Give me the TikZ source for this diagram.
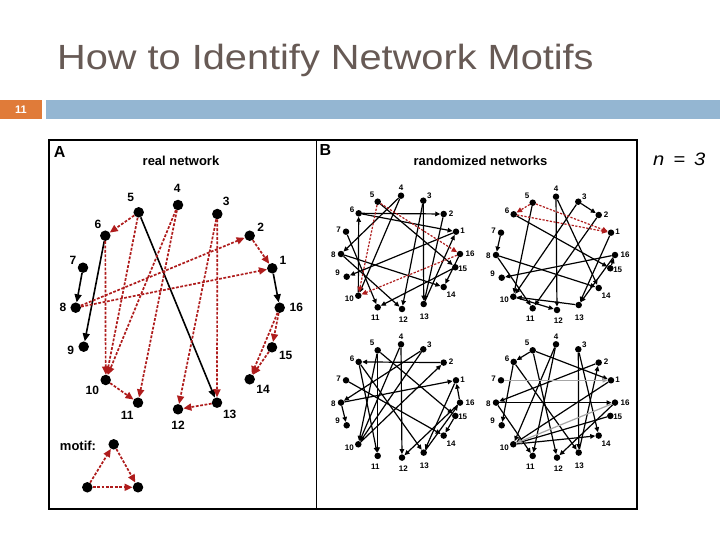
\documentclass[tikz,border=0pt]{standalone}
\usepackage{fontspec}
\usepackage{graphicx}
\setmainfont{Liberation Sans}
\usetikzlibrary{arrows.meta}
\definecolor{titlec}{RGB}{103,90,85}
\definecolor{orangec}{RGB}{224,123,57}
\definecolor{bluec}{RGB}{148,182,210}
\definecolor{redc}{RGB}{175,28,28}
\newcommand\bnet[3]{%
  \foreach \i/\x/\y/\lx/\ly in {1/456/231.7/6.7/-1, 2/443.7/214/7.3/-0.7, 3/423.3/200.7/6/-4.7,
    4/401/195.7/0/-8, 5/377.7/201.7/-5.7/-7.4, 6/358.7/213.3/-6.7/-3.3, 7/346/231.7/-7.3/-1.7,
    8/341/254/-7.7/1, 9/346.7/276.7/-9/-4.4, 10/358.3/295.7/-9/3.3, 11/377.7/307.3/-2.4/10.4,
    12/402/309/1.3/11, 13/423.7/304/0.6/12.7, 14/443.7/287/7.3/8, 15/455.3/267.3/7.4/1, 16/460/254/10/0}{
    \node[dotB] (#1-\i) at ({\x+#2},{\y+#3}) {};
    \node[labB] (#1-l\i) at ({\x+#2+\lx},{\y+#3+\ly}) {\i};
  }}
\begin{document}
\begin{tikzpicture}[x=1pt,y=-1pt,
  dotA/.style={circle,fill=black,inner sep=0pt,minimum size=10.5pt},
  dotB/.style={circle,fill=black,inner sep=0pt,minimum size=6.5pt},
  labA/.style={font=\fontsize{12}{12}\selectfont\bfseries,inner sep=0pt},
  labB/.style={font=\fontsize{8}{8}\selectfont\bfseries,inner sep=0pt},
  head/.style={font=\fontsize{13}{13}\selectfont\bfseries,inner sep=0pt},
  blkA/.style={draw=black,line width=1.6pt,-{Triangle[length=8pt,width=7pt]}},
  redA/.style={draw=redc,line width=1.7pt,dash pattern=on 2.8pt off 1.6pt,-{Triangle[length=8pt,width=7pt]}},
  blkB/.style={draw=black,line width=1.2pt,-{Triangle[length=5pt,width=4.5pt]}},
  redB/.style={draw=redc,line width=1.2pt,dash pattern=on 2.2pt off 1.5pt,-{Triangle[length=5.5pt,width=5pt]}},
  grayB/.style={draw=black!35,line width=1.2pt,-{Triangle[length=5pt,width=4.5pt]}},
]
\useasboundingbox (0,0) rectangle (720,540);
\fill[white] (0,0) rectangle (720,540);
% header
\node[anchor=base west,text=titlec,font=\fontsize{35}{35}\selectfont,inner sep=0pt] (title) at (57,70) {\scalebox{1.135}[1]{How to Identify Network Motifs}};
\fill[orangec] (0,100) rectangle (42,119);
\fill[bluec] (45.5,100) rectangle (720,119);
\node[text=white,font=\fontsize{11}{11}\selectfont\bfseries,inner sep=0pt] (num) at (21,109.5) {11};
\node[anchor=base west,font=\fontsize{18}{18}\selectfont\itshape,inner sep=0pt] (nval) at (653,166) {\scalebox{1.12}[1]{n\hspace{8pt}=\hspace{8pt}3}};
% frame
\draw[line width=1.2pt] (49,140) rectangle (637,509);
\draw[line width=1.2pt] (316.5,140) -- (316.5,509);
\node[font=\fontsize{16}{16}\selectfont\bfseries,inner sep=0pt] (panA) at (59.7,151.7) {A};
\node[font=\fontsize{16}{16}\selectfont\bfseries,inner sep=0pt] (panB) at (325.3,150) {B};
\node[head] (hA) at (181,160.7) {real network};
\node[head] (hB) at (480.5,160.5) {randomized networks};
% panel A nodes
\foreach \i/\x/\y/\lx/\ly in {1/272.3/268.3/283/260.7, 2/249.7/235.7/260.7/227.3, 3/217.3/214/226.3/201,
  4/178/205/177.3/188.3, 5/138.7/212.3/130.7/197.7, 6/105.3/235.7/98/224.3, 7/83/267.7/73/260.7,
  8/75.7/307.7/63/307.7, 9/83.7/346.7/70.7/350.7, 10/105.7/380/92.3/390.7, 11/138/402.7/127.3/415,
  12/178/409.3/178/425.3, 13/217/402.7/229.7/414, 14/249.7/379.3/263/389.3, 15/272/347.3/285.7/355,
  16/279.7/307.7/296.3/307.7}{
  \node[dotA] (a\i) at (\x,\y) {};
  \node[labA] (al\i) at (\lx,\ly) {\i};
}
\foreach \a/\b in {7/8, 6/9, 5/13, 1/16}{\draw[blkA] (a\a) -- (a\b);}
\foreach \a/\b in {5/6, 2/1, 8/2, 8/1, 6/10, 5/10, 4/10, 4/11, 3/12, 3/13, 10/11, 13/12, 16/15, 16/14, 15/14}{\draw[redA] (a\a) -- (a\b);}
% motif
\node[head] (motif) at (78,445.7) {motif:};
\node[dotA] (m1) at (113.7,444.3) {};
\node[dotA] (m2) at (87.3,487.3) {};
\node[dotA] (m3) at (138,487.3) {};
\draw[redA] (m2) -- (m1);
\draw[redA] (m1) -- (m3);
\draw[redA] (m2) -- (m3);
% panel B networks
\bnet{ba}{0}{0}
\bnet{bb}{155}{1}
\bnet{bc}{0}{148.6}
\bnet{bd}{155}{148.6}
% B1
\foreach \a/\b in {5/15, 4/8, 4/10, 3/13, 3/12, 6/2, 6/1, 7/11, 8/14, 8/12, 1/9, 10/6, 2/13, 13/1, 15/11, 16/14}{\draw[blkB] (ba-\a) -- (ba-\b);}
\foreach \a/\b in {5/16, 5/10, 16/10}{\draw[redB] (ba-\a) -- (ba-\b);}
% B2
\foreach \a/\b in {5/10, 4/12, 4/14, 3/2, 3/10, 6/15, 7/8, 8/14, 8/11, 1/13, 2/11, 16/9, 15/16, 16/13, 13/10, 10/12}{\draw[blkB] (bb-\a) -- (bb-\b);}
\foreach \a/\b in {5/6, 5/1, 6/1}{\draw[redB] (bb-\a) -- (bb-\b);}
% B3
\foreach \a/\b in {5/10, 5/11, 5/15, 4/12, 4/10, 3/8, 3/10, 2/6, 10/2, 6/13, 6/11, 7/14, 8/1, 8/9, 1/13, 13/16, 16/1, 16/12, 15/14}{\draw[blkB] (bc-\a) -- (bc-\b);}
% B4
\foreach \a/\b in {5/6, 5/1, 5/12, 4/10, 4/11, 3/13, 3/14, 13/2, 2/8, 6/9, 6/13, 8/16, 8/11, 1/10, 15/10, 10/14, 16/12}{\draw[blkB] (bd-\a) -- (bd-\b);}
\draw[grayB] (bd-7) -- (bd-1);
\draw[grayB] (bd-16) -- (bd-10);
\end{tikzpicture}
\end{document}
